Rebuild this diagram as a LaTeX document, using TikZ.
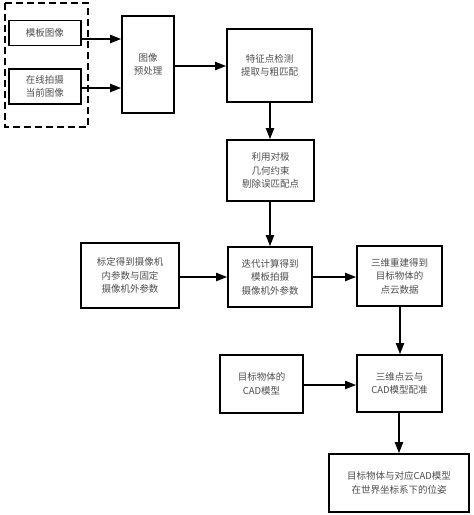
\documentclass[tikz,border=0pt]{standalone}
\usepackage{fontspec}
\setmainfont{Noto Sans CJK SC}
\usetikzlibrary{arrows.meta}
\begin{document}
\begin{tikzpicture}[x=1pt,y=-1pt,
  box/.style={draw, line width=1.6pt, align=center, inner sep=0pt,
    font=\fontsize{9.5}{13.5}\selectfont, text=black!70},
  arrow/.style={line width=1.8pt, -{Triangle[length=11pt,width=8pt]}}]
\useasboundingbox (0,0) rectangle (474,515);
%%% input images inside the dashed frame
\draw[line width=1.6pt, dash pattern=on 7pt off 4pt] (5,3) rectangle (88,127);
\node[box, minimum width=72, minimum height=25] (tpl) at (45,33) {模板图像};
\node[box, minimum width=72, minimum height=35] (cur) at (45,86.5) {在线拍摄\\当前图像};
%%% main chain
\node[box, minimum width=52, minimum height=97] (pre) at (148,64.5) {图像\\预处理};
\node[box, minimum width=85, minimum height=73] (feat) at (269.5,65.5) {特征点检测\\提取与粗匹配};
\node[box, minimum width=87, minimum height=61] (epi) at (270.5,170.5) {利用对极\\几何约束\\剔除误匹配点};
\node[box, minimum width=98, minimum height=65] (cal) at (130,275.5) {标定得到摄像机\\内参数与固定\\摄像机外参数};
\node[box, minimum width=84, minimum height=60] (iter) at (270,277) {迭代计算得到\\模板拍摄\\摄像机外参数};
\node[box, minimum width=85, minimum height=60] (rec) at (399.5,276) {三维重建得到\\目标物体的\\点云数据};
\node[box, minimum width=83, minimum height=58] (cad) at (261.5,384) {目标物体的\\CAD模型};
\node[box, minimum width=85, minimum height=57] (reg) at (399.5,383.5) {三维点云与\\CAD模型配准};
\node[box, minimum width=140, minimum height=58] (pose) at (399,483) {目标物体与对应CAD模型\\在世界坐标系下的位姿};
%%% connectors
\draw[arrow] (tpl.east |- 0,39) -- (pre.west |- 0,39);
\draw[arrow] (cur.east |- 0,88) -- (pre.west |- 0,88);
\draw[arrow] (pre.east |- 0,66) -- (feat.west |- 0,66);
\draw[arrow] (feat.south -| 270,0) -- (epi.north -| 270,0);
\draw[arrow] (epi.south -| 270,0) -- (iter.north -| 270,0);
\draw[arrow] (cal.east |- 0,277) -- (iter.west |- 0,277);
\draw[arrow] (iter.east |- 0,277) -- (rec.west |- 0,277);
\draw[arrow] (rec.south -| 400,0) -- (reg.north -| 400,0);
\draw[arrow] (cad.east |- 0,385) -- (reg.west |- 0,385);
\draw[arrow] (reg.south -| 399,0) -- (pose.north -| 399,0);
\end{tikzpicture}
\end{document}
